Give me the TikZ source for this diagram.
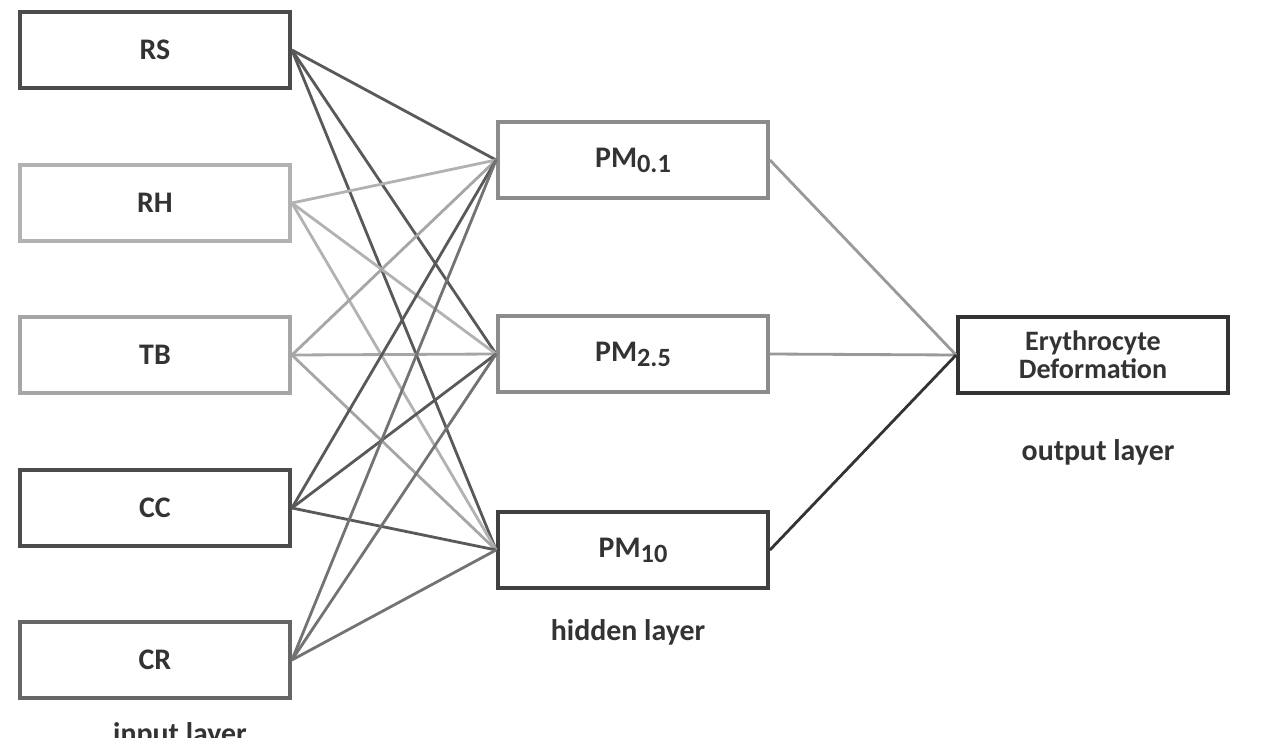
\documentclass[tikz,border=0pt]{standalone}
\usepackage{fontspec}
\setmainfont{Carlito}
\newcommand{\mysub}[1]{\raisebox{-0.35ex}{\fontsize{15}{17}\selectfont #1}}
\begin{document}
\begin{tikzpicture}[x=0.02cm,y=-0.02cm,
 box/.style={draw=#1,line width=2.2pt,minimum width=5.4cm,minimum height=1.52cm,inner sep=0pt,font=\fontsize{17}{18}\selectfont\bfseries,text=black!80,align=center},
 ln/.style={draw=#1,line width=1.6pt},
 lab/.style={font=\fontsize{17}{18}\selectfont\bfseries,text=black!80}]
\useasboundingbox (0,0) rectangle (1261,737);
\colorlet{dk}{black!70}\colorlet{lt}{black!30}
\node[box=dk] (rs) at (155,50) {RS};
\node[box=lt] (rh) at (155,203) {RH};
\node[box=black!35] (tb) at (155,355) {TB};
\node[box=dk] (cc) at (155,508) {CC};
\node[box=black!60] (cr) at (155,660) {CR};
\node[box=black!45] (h1) at (633,160) {PM\mysub{0.1}};
\node[box=black!45] (h2) at (633,354) {PM\mysub{2.5}};
\node[box=black!75] (h3) at (633,550) {PM\mysub{10}};
\node[box=black!80,font=\fontsize{16}{16}\selectfont\bfseries] (o) at (1093,355) {Erythrocyte\\Deformation};
\foreach \s/\c in {rs/black!65,rh/lt,tb/black!35,cc/black!65,cr/black!55}
 \foreach \h in {h1,h2,h3}
  \draw[ln=\c] (\s.east) -- (\h.west);
\draw[ln=black!40] (h1.east) -- (o.west);
\draw[ln=black!40] (h2.east) -- (o.west);
\draw[ln=black!80] (h3.east) -- (o.west);
\node[lab] (l1) at (628,632) {hidden layer};
\node[lab] (l2) at (1098,452) {output layer};
\node[lab,anchor=north] (l3) at (180,716) {input layer};
\end{tikzpicture}
\end{document}
